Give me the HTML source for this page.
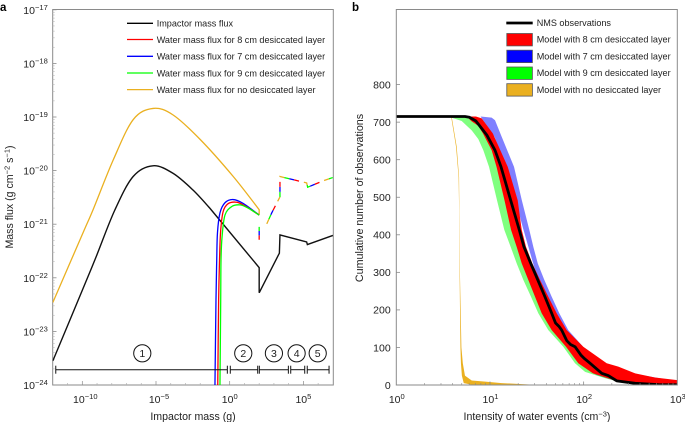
<!DOCTYPE html>
<html><head><meta charset="utf-8">
<style>
html,body{margin:0;padding:0;background:#fff;width:685px;height:422px;overflow:hidden}
svg{display:block;font-family:"Liberation Sans",sans-serif;fill:#222}
</style></head>
<body>
<svg id="chart" width="685" height="422" viewBox="0 0 685 422" xmlns="http://www.w3.org/2000/svg">
<defs>
<clipPath id="clipA"><rect x="52.7" y="9.5" width="280.6" height="375.5"/></clipPath>
<clipPath id="clipB"><rect x="396.3" y="9.5" width="281" height="375.5"/></clipPath>
</defs>
<text x="0" y="11" font-size="11.5" font-weight="bold" fill="#000">a</text>
<text x="352" y="11" font-size="11.5" font-weight="bold" fill="#000">b</text>

<g id="panelA"></g>
<g id="panelB"></g>

<g font-size="9.1">
<line x1="127" x2="153" y1="23.3" y2="23.3" stroke="#000" stroke-width="1.4"/>
<text x="156.7" y="26.7">Impactor mass flux</text>
<line x1="127" x2="153" y1="39.5" y2="39.5" stroke="#f00" stroke-width="1.3"/>
<text x="156.7" y="42.9">Water mass flux for 8 cm desiccated layer</text>
<line x1="127" x2="153" y1="56.3" y2="56.3" stroke="#00f" stroke-width="1.3"/>
<text x="156.7" y="59.7">Water mass flux for 7 cm desiccated layer</text>
<line x1="127" x2="153" y1="73" y2="73" stroke="#0f0" stroke-width="1.3"/>
<text x="156.7" y="76.4">Water mass flux for 9 cm desiccated layer</text>
<line x1="127" x2="153" y1="89.6" y2="89.6" stroke="#eab020" stroke-width="1.3"/>
<text x="156.7" y="93">Water mass flux for no desiccated layer</text>
</g>

<g font-size="9.1">
<line x1="506.3" x2="532.7" y1="23" y2="23" stroke="#000" stroke-width="2.8"/>
<text x="536.7" y="26">NMS observations</text>
<rect x="506.8" y="33.5" width="25.6" height="12.4" fill="#f00" stroke="#555" stroke-width="0.8"/>
<text x="536.7" y="42.7">Model with 8 cm desiccated layer</text>
<rect x="506.8" y="50.2" width="25.6" height="12.4" fill="#00f" stroke="#555" stroke-width="0.8"/>
<text x="536.7" y="59.4">Model with 7 cm desiccated layer</text>
<rect x="506.8" y="67" width="25.6" height="12.4" fill="#0f0" stroke="#555" stroke-width="0.8"/>
<text x="536.7" y="76.1">Model with 9 cm desiccated layer</text>
<rect x="506.8" y="83.7" width="25.6" height="12.4" fill="#eab020" stroke="#555" stroke-width="0.8"/>
<text x="536.7" y="92.8">Model with no desiccated layer</text>
</g>

<text transform="translate(13,197) rotate(-90)" text-anchor="middle" font-size="10.6">Mass flux (g cm<tspan dy="-3.5" font-size="7.5">−2</tspan><tspan dy="3.5"> s</tspan><tspan dy="-3.5" font-size="7.5">−1</tspan><tspan dy="3.5">)</tspan></text>
<text x="193" y="420" text-anchor="middle" font-size="10.6">Impactor mass (g)</text>
<text transform="translate(363,198) rotate(-90)" text-anchor="middle" font-size="10.7">Cumulative number of observations</text>
<text x="537" y="420" text-anchor="middle" font-size="10.6">Intensity of water events (cm<tspan dy="-3.5" font-size="7.5">−3</tspan><tspan dy="3.5">)</tspan></text>
</svg>
<script>
// ---------- Panel a data (log10 mass in g, log10 flux) ----------
const impactorMass = [-12, -9.95, -9.05, -7.8, -6.55, -5.2, -3.85, -2.5, -1.35, 2, 2, 3.37, 3.41, 5.22, 5.27, 7];
const impactorFlux = [-23.55, -22.2, -21.6, -20.74, -20.11, -19.91, -20.05, -20.36, -20.7, -21.81, -22.28, -21.54, -21.2, -21.33, -21.38, -21.21];
const noLayerMass = [-12, -9.95, -9.27, -7.9, -6.55, -5.2, -3.85, -2, 0.24, 2, 2];
const noLayerFlux = [-22.46, -21.16, -20.73, -19.8, -19.05, -18.84, -18.96, -19.42, -20.11, -20.73, -20.82];
const blueMass = [-1.0, -0.93, -0.88, -0.83, -0.66, -0.32, 0.22, 0.9, 2];
const blueFlux = [-24, -22.41, -21.67, -21.16, -20.79, -20.6, -20.54, -20.61, -20.83];
const redMass = [-0.81, -0.75, -0.69, -0.62, -0.45, -0.12, 0.47, 1.04, 2];
const redFlux = [-24, -22.41, -21.67, -21.15, -20.77, -20.62, -20.59, -20.66, -20.83];
const greenMass = [-0.66, -0.61, -0.59, -0.52, -0.32, 0.14, 0.7, 1.26, 2];
const greenFlux = [-24, -22.41, -21.67, -21.24, -20.83, -20.67, -20.64, -20.7, -20.83];
const lowStubMass = [2, 2];
const lowStubFlux = [-21.29, -21.05];
const lowStubColors = ['#f00', '#00f', '#0f0'];
const largeMass = [2.39, 2.85, 3.41, 3.41, 5.22, 5.29, 6.35, 6.99];
const largeFlux = [-21.07, -20.79, -20.49, -20.11, -20.23, -20.31, -20.19, -20.13];
const largeColors = ['#eab020', '#0f0', '#00f', '#f00'];
const regionLabels = ['1', '2', '3', '4', '5'];
const regionStart = [-11.8, 0.04, 2.01, 4.14, 5.26];
const regionEnd = [-0.16, 1.9, 3.98, 5.09, 6.74];
const regionLabelMass = [-5.93, 0.92, 3, 4.54, 5.97];
const fluxTicks = [-17, -18, -19, -20, -21, -22, -23, -24];
const massTicks = [-10, -5, 0, 5];

// ---------- Panel b data (log10 intensity, cumulative count) ----------
const nmsIntensity = [0, 0.733, 0.78, 0.85, 0.912, 0.968, 1.054, 1.118, 1.221, 1.313, 1.363, 1.435, 1.51, 1.587, 1.659, 1.7, 1.74, 1.766, 1.82, 1.86, 1.908, 1.97, 2.01, 2.068, 2.193, 2.263, 2.353, 2.55, 2.8, 3];
const nmsCount = [715, 715, 713, 703, 683, 665, 625, 581, 492, 413, 368, 324, 280, 235, 191, 165, 155, 146, 118, 108, 102, 80, 70, 58, 31, 25, 11, 4.5, 1, 0.5];
const blueUpperX = [0.7, 0.9, 1.018, 1.054, 1.125, 1.257, 1.34, 1.42, 1.463, 1.51, 1.58, 1.659, 1.74, 1.836, 1.98, 2.1, 2.3, 3];
const blueUpperN = [715, 715, 712, 705, 661, 581, 492, 413, 368, 324, 280, 235, 191, 146, 106, 70, 40, 10];
const blueLowerX = [0.9, 1.05, 1.2, 1.35, 1.5, 1.65, 1.8, 2.0, 2.13, 2.3, 2.6, 3];
const blueLowerN = [715, 660, 560, 420, 290, 190, 125, 70, 27, 14, 2, 0];
const greenUpperX = [0.59, 0.8, 0.95, 1.1, 1.25, 1.4, 1.6, 1.8, 2.0, 2.3, 3];
const greenUpperN = [715, 715, 680, 600, 470, 340, 220, 130, 80, 35, 5];
const greenLowerX = [0.59, 0.698, 0.805, 0.875, 0.929, 0.99, 1.075, 1.153, 1.221, 1.285, 1.356, 1.438, 1.516, 1.623, 1.783, 1.908, 2.015, 2.23, 2.4, 3];
const greenLowerN = [712, 703, 678, 655, 625, 581, 492, 413, 368, 324, 280, 235, 191, 146, 102, 58, 35, 18, 7, 0];
const redUpperX = [0.75, 0.85, 0.912, 1.03, 1.19, 1.296, 1.339, 1.385, 1.452, 1.534, 1.623, 1.712, 1.819, 1.996, 2.246, 2.37, 2.55, 2.76, 3];
const redUpperN = [715, 715, 710, 670, 581, 492, 413, 368, 324, 280, 235, 191, 146, 102, 58, 49, 31, 20, 13];
const redLowerX = [0.75, 0.805, 0.875, 0.925, 1.018, 1.07, 1.155, 1.225, 1.285, 1.339, 1.409, 1.481, 1.552, 1.659, 1.812, 1.943, 2.1, 2.26, 2.37, 2.58, 3];
const redLowerN = [715, 702, 690, 670, 625, 581, 492, 413, 368, 324, 280, 235, 191, 146, 102, 58, 31, 18, 9, 2, 0.5];
const noLayerUpperX = [0.591, 0.645, 0.67, 0.673, 0.68, 0.695, 0.71, 0.733, 0.805, 0.95, 1.125, 1.42, 1.56];
const noLayerUpperN = [715, 634, 554, 465, 288, 100, 58, 25, 12, 9, 5, 1.5, 0];
const noLayerLowerX = [0.585, 0.638, 0.665, 0.671, 0.676, 0.685, 0.69, 0.7, 0.72, 0.8, 1.0, 1.56];
const noLayerLowerN = [715, 634, 554, 465, 288, 100, 58, 25, 5, 1, 0, 0];
const countTicks = [0, 100, 200, 300, 400, 500, 600, 700, 800];
const intensityTicks = [0, 1, 2, 3];

// ---------- Axis functions ----------
const xA = m => 229.7 + 14.74 * m;
const yA = f => 385 - (f + 24) * 53.6;
const xB = v => 396.3 + 93.67 * v;
const yB = n => 385 - n * 0.3755;
const NS = 'http://www.w3.org/2000/svg';

function mk(parent, tag, name, attrs, text) {
  const el = document.createElementNS(NS, tag);
  
  
  for (const k in attrs) el.setAttribute(k, attrs[k]);
  if (text !== undefined) el.textContent = text;
  parent.appendChild(el);
  return el;
}
function power(parent, name, x, y, anchor, exp, size) {
  const t = mk(parent, 'text', name, {x: x, y: y, 'text-anchor': anchor, 'font-size': size});
  t.appendChild(document.createTextNode('10'));
  const s = document.createElementNS(NS, 'tspan');
  s.setAttribute('dy', '-4');
  s.setAttribute('font-size', size * 0.72);
  s.textContent = String(exp).replace('-', '\u2212');
  t.appendChild(s);
}
function smoothPath(px, py, upto) {
  let d = 'M' + px[0].toFixed(2) + ' ' + py[0].toFixed(2);
  for (let i = 0; i < px.length - 1; i++) {
    if (i >= upto) { d += 'L' + px[i + 1].toFixed(2) + ' ' + py[i + 1].toFixed(2); continue; }
    const a = Math.max(i - 1, 0), c = i + 1, e = Math.min(i + 2, Math.min(upto, px.length - 1));
    const c1x = px[i] + (px[c] - px[a]) / 6, c1y = py[i] + (py[c] - py[a]) / 6;
    const c2x = px[c] - (px[e] - px[i]) / 6, c2y = py[c] - (py[e] - py[i]) / 6;
    d += 'C' + [c1x, c1y, c2x, c2y, px[c], py[c]].map(v => v.toFixed(2)).join(' ');
  }
  return d;
}
function curve(parent, name, xs, ys, color, width, upto) {
  return mk(parent, 'path', name, {
    d: smoothPath(xs.map(xA), ys.map(yA), upto), fill: 'none', stroke: color,
    'stroke-width': width, 'stroke-linejoin': 'miter'
  });
}
function band(parent, name, ux, un, lx, ln, color, opacity) {
  const up = ux.map((v, i) => xB(v).toFixed(2) + ',' + yB(un[i]).toFixed(2));
  const lo = lx.map((v, i) => xB(v).toFixed(2) + ',' + yB(ln[i]).toFixed(2)).reverse();
  return mk(parent, 'polygon', name, {points: up.concat(lo).join(' '), fill: color, 'fill-opacity': opacity});
}

// ---------- Panel a ----------
const A = document.getElementById('panelA');
mk(A, 'rect', 'panel-a-frame', {x: 52.7, y: 9.5, width: 280.6, height: 375.5, fill: 'none', stroke: '#8a8a8a', 'stroke-width': 1});
fluxTicks.forEach(f => {
  mk(A, 'line', 'y-major-tick', {x1: 52.7, x2: 56.5, y1: yA(f), y2: yA(f), stroke: '#8a8a8a', 'stroke-width': 0.8});
  power(A, 'y-tick-label', 47.8, yA(f) + 4, 'end', f, 10.5);
  if (f > -24) for (let k = 2; k < 10; k++) {
    const yy = yA(f - 1 + Math.log10(k));
    mk(A, 'line', 'y-minor-tick', {x1: 52.7, x2: 54.7, y1: yy, y2: yy, stroke: '#b5b5b5', 'stroke-width': 0.6});
  }
});
for (let m = -11; m <= 6; m++) {
  const major = massTicks.includes(m);
  mk(A, 'line', major ? 'x-major-tick' : 'x-minor-tick', {x1: xA(m), x2: xA(m), y1: 385, y2: major ? 381 : 383, stroke: major ? '#8a8a8a' : '#b0b0b0', 'stroke-width': 0.7});
}
massTicks.forEach(m => {
  power(A, 'x-tick-label', xA(m) + (m < 0 ? 3 : 0), 403, 'middle', m, 10.5);
});
const clipA = mk(A, 'g', 'panel-a-series', {'clip-path': 'url(#clipA)'});
curve(clipA, 'impactor-mass-flux-line', impactorMass, impactorFlux, '#111', 1.4, 8);
curve(clipA, 'no-layer-flux-line', noLayerMass, noLayerFlux, '#eab020', 1.3, 9);
curve(clipA, 'blue-7cm-flux-line', blueMass, blueFlux, '#00f', 1.3, 99);
curve(clipA, 'red-8cm-flux-line', redMass, redFlux, '#f00', 1.3, 99);
curve(clipA, 'green-9cm-flux-line', greenMass, greenFlux, '#0f0', 1.3, 99);
lowStubColors.forEach((c, i) => {
  const p = curve(clipA, 'low-stub-dashed-flux', lowStubMass, lowStubFlux, c, 1.3, 0);
  p.setAttribute('stroke-dasharray', '4.4 8.8');
  p.setAttribute('stroke-dashoffset', -i * 4.4);
});
largeColors.forEach((c, i) => {
  const p = curve(clipA, 'large-impactor-dashed-flux', largeMass, largeFlux, c, 1.3, 0);
  p.setAttribute('stroke-dasharray', '5 20');
  p.setAttribute('stroke-dashoffset', -(4.5 + i * 5));
});
regionLabels.forEach((label, i) => {
  mk(A, 'circle', 'region-' + label + '-circle', {cx: xA(regionLabelMass[i]), cy: 353.3, r: 8.6, fill: '#fff', stroke: '#111', 'stroke-width': 1});
  mk(A, 'text', 'region-' + label + '-label', {x: xA(regionLabelMass[i]), y: 357, 'text-anchor': 'middle', 'font-size': 10.5}, label);
  const x1 = xA(regionStart[i]), x2 = xA(regionEnd[i]);
  mk(A, 'line', 'region-' + label + '-range', {x1: x1, x2: x2, y1: 369.7, y2: 369.7, stroke: '#111', 'stroke-width': 1});
  mk(A, 'line', 'region-' + label + '-cap-start', {x1: x1, x2: x1, y1: 365.7, y2: 373.7, stroke: '#111', 'stroke-width': 1});
  mk(A, 'line', 'region-' + label + '-cap-end', {x1: x2, x2: x2, y1: 365.7, y2: 373.7, stroke: '#111', 'stroke-width': 1});
});

// ---------- Panel b ----------
const B = document.getElementById('panelB');
const clipB = mk(B, 'g', 'panel-b-series', {'clip-path': 'url(#clipB)'});
band(clipB, 'model-7cm-band', blueUpperX, blueUpperN, blueLowerX, blueLowerN, '#00f', 0.5);
band(clipB, 'model-9cm-band', greenUpperX, greenUpperN, greenLowerX, greenLowerN, '#0f0', 0.5);
band(clipB, 'model-8cm-band', redUpperX, redUpperN, redLowerX, redLowerN, '#f00', 1);
band(clipB, 'model-no-layer-band', noLayerUpperX, noLayerUpperN, noLayerLowerX, noLayerLowerN, '#eab020', 1);
mk(clipB, 'polyline', 'nms-observations-line', {
  points: nmsIntensity.map((v, i) => xB(v).toFixed(2) + ',' + yB(nmsCount[i]).toFixed(2)).join(' '),
  fill: 'none', stroke: '#000', 'stroke-width': 2.8, 'stroke-linejoin': 'round'
});
mk(B, 'rect', 'panel-b-frame', {x: 396.3, y: 9.5, width: 281, height: 375.5, fill: 'none', stroke: '#8a8a8a', 'stroke-width': 1});
countTicks.forEach(n => {
  mk(B, 'line', 'y-tick', {x1: 396.3, x2: 400, y1: yB(n), y2: yB(n), stroke: '#8a8a8a', 'stroke-width': 0.8});
  mk(B, 'text', 'y-tick-label', {x: 390.7, y: yB(n) + 3.8, 'text-anchor': 'end', 'font-size': 10.5}, n);
});
intensityTicks.forEach(v => {
  power(B, 'x-tick-label', xB(v) + 0.5, 403, 'middle', v, 10.5);
  if (v < 3) for (let k = 2; k < 10; k++) {
    const xx = xB(v + Math.log10(k));
    mk(B, 'line', 'x-minor-tick', {x1: xx, x2: xx, y1: 385, y2: 383, stroke: '#8a8a8a', 'stroke-width': 0.6});
  }
  if (v > 0 && v < 3) mk(B, 'line', 'x-major-tick', {x1: xB(v), x2: xB(v), y1: 385, y2: 381.5, stroke: '#8a8a8a', 'stroke-width': 0.8});
});
</script>
</body></html>
